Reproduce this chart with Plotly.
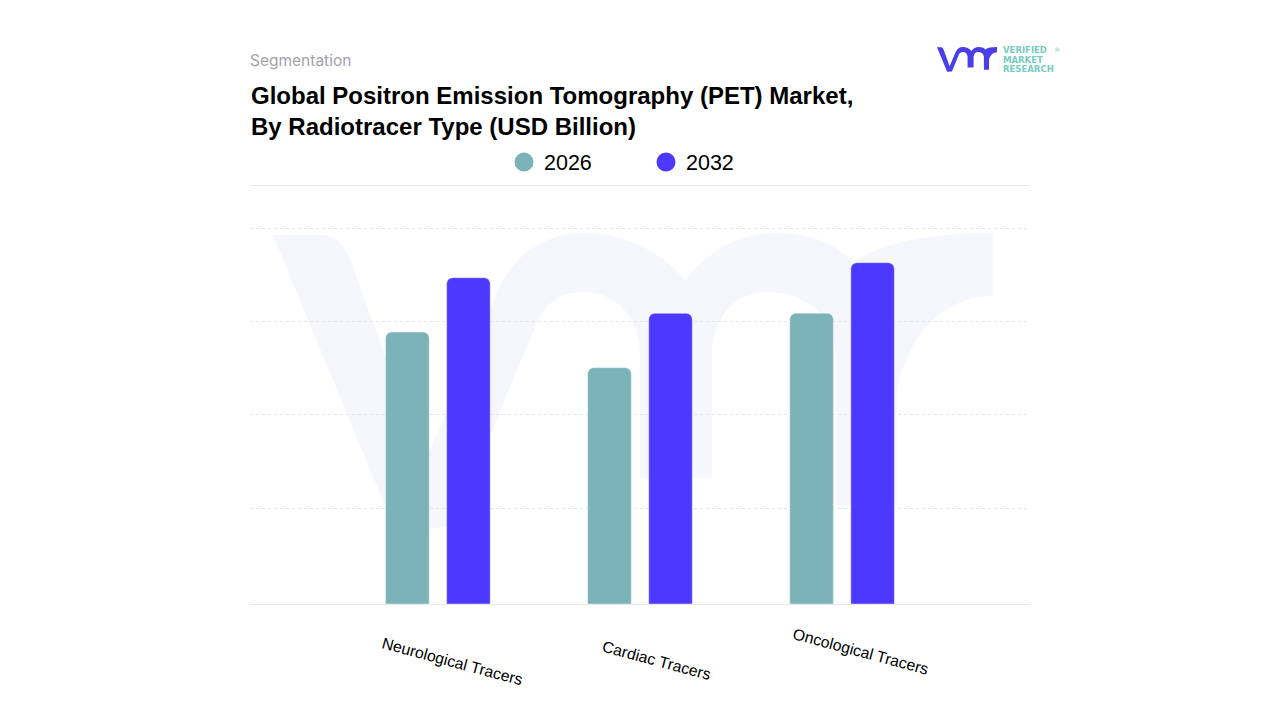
import plotly.graph_objects as go

# values (no axis labels in the original, scale is estimated)
categories = ['Neurological Tracers', 'Cardiac Tracers', 'Oncological Tracers']
values_2026 = [1.45, 1.26, 1.55]
values_2032 = [1.74, 1.55, 1.82]
grid_values = [0.51, 1.01, 1.505, 2.0]

TEAL = '#7bb3b8'
BLUE = '#4c38fe'
LOGO_TEXT = '#76cdbd'
FONT = 'Liberation Sans'

# plot box in page pixels
LEFT, RIGHT, TOP, BOTTOM = 250, 1030, 186, 604


def px(x):
    return (x - LEFT) / (RIGHT - LEFT)


def py(y):
    return (BOTTOM - y) / (BOTTOM - TOP)


# outline of the vmr mark, same shape for the watermark and the logo
mark = [
    ('M', [(273, 235)]),
    ('L', [(322, 235)]),
    ('C', [(338, 236), (346, 248), (352, 264)]),
    ('L', [(424, 465)]),
    ('L', [(497, 293)]),
    ('C', [(512, 255), (545, 233), (583, 233)]),
    ('C', [(625, 233), (662, 252), (685, 280)]),
    ('C', [(708, 252), (738, 233), (773, 233)]),
    ('C', [(808, 233), (835, 242), (853, 262)]),
    ('C', [(880, 243), (930, 233), (993, 233)]),
    ('L', [(993, 296)]),
    ('C', [(945, 296), (905, 335), (897, 395)]),
    ('L', [(897, 505)]),
    ('L', [(836, 505)]),
    ('L', [(836, 350)]),
    ('C', [(832, 315), (805, 292), (767, 292)]),
    ('C', [(735, 292), (712, 318), (712, 355)]),
    ('L', [(712, 478)]),
    ('L', [(640, 478)]),
    ('L', [(640, 355)]),
    ('C', [(640, 318), (617, 292), (583, 292)]),
    ('C', [(560, 292), (545, 303), (535, 327)]),
    ('L', [(452, 527)]),
    ('L', [(395, 530)]),
    ('Z', []),
]


def mark_path(scale, dx, dy):
    parts = []
    for cmd, pts in mark:
        coords = ' '.join(f'{px(p[0] * scale + dx):.5f},{py(p[1] * scale + dy):.5f}' for p in pts)
        parts.append(f'{cmd}{coords}')
    return ' '.join(parts)


logo_scale = 60 / 720
shapes = [
    dict(type='path', xref='paper', yref='paper', layer='below', line_width=0,
         fillcolor='#f6f7fd', path=mark_path(1, 0, 0)),
    dict(type='path', xref='paper', yref='paper', layer='below', line_width=0,
         fillcolor='#4a3ee6',
         path=mark_path(logo_scale, 937 - 273 * logo_scale, 47 - 233 * logo_scale)),
]

fig = go.Figure()
fig.add_trace(go.Bar(x=categories, y=values_2026, name='2026', marker_color=TEAL, showlegend=False))
fig.add_trace(go.Bar(x=categories, y=values_2032, name='2032', marker_color=BLUE, showlegend=False))

# round legend dots, the bars would only give squares
fig.add_trace(go.Scatter(x=[None], y=[None], mode='markers', name='2026',
                         marker=dict(color=TEAL, size=16, line=dict(color=TEAL, width=3))))
fig.add_trace(go.Scatter(x=[None], y=[None], mode='markers', name='2032',
                         marker=dict(color=BLUE, size=16, line=dict(color=BLUE, width=3))))

annotations = [
    dict(text='Segmentation', x=px(248), y=py(60), xanchor='left', yanchor='middle',
         font=dict(family='Inter', size=15.5, color='#a3a3a8')),
    dict(text='<b>VERIFIED</b>', x=px(1001), y=py(50), xanchor='left', yanchor='middle',
         font=dict(family='DejaVu Sans', size=8.5, color=LOGO_TEXT)),
    dict(text='<b>MARKET</b>', x=px(1001), y=py(59.5), xanchor='left', yanchor='middle',
         font=dict(family='DejaVu Sans', size=8.5, color=LOGO_TEXT)),
    dict(text='<b>RESEARCH</b>', x=px(1001), y=py(69), xanchor='left', yanchor='middle',
         font=dict(family='DejaVu Sans', size=8.5, color=LOGO_TEXT)),
    dict(text='®', x=px(1057), y=py(49), xanchor='center', yanchor='middle',
         font=dict(family='DejaVu Sans', size=6, color=LOGO_TEXT)),
]
for a in annotations:
    a.update(xref='paper', yref='paper', showarrow=False)

# slanted category labels, centred a bit right of each group like the original
label_xshift = [15, 17, 19]
label_center_y = [661, 660, 651]
for cat, xs, cy in zip(categories, label_xshift, label_center_y):
    annotations.append(dict(text=cat, x=cat, xref='x', y=py(cy), yref='paper', xshift=xs,
                            textangle=15, showarrow=False, xanchor='center', yanchor='middle',
                            font=dict(family=FONT, size=15.8, color='#000000')))

fig.update_layout(
    width=1280,
    height=720,
    margin=dict(l=LEFT, r=1280 - RIGHT, t=TOP, b=720 - BOTTOM, pad=0),
    paper_bgcolor='white',
    plot_bgcolor='rgba(0,0,0,0)',
    font=dict(family=FONT, color='#000000'),
    title=dict(text='<b>Global Positron Emission Tomography (PET) Market,<br>By Radiotracer Type (USD Billion)</b>',
               x=251 / 1280, xanchor='left', xref='container',
               y=1 - 104 / 720, yanchor='top', yref='container',
               font=dict(family=FONT, size=24, color='#000000')),
    barmode='group',
    bargap=0.396,
    bargroupgap=0.287,
    barcornerradius=6,
    legend=dict(orientation='h', x=px(504), xanchor='left', y=py(162), yanchor='middle',
                entrywidth=97, entrywidthmode='pixels', itemsizing='trace',
                itemclick=False, bgcolor='rgba(0,0,0,0)',
                font=dict(family=FONT, size=21.5, color='#000000')),
    xaxis=dict(type='category', categoryorder='array', categoryarray=categories,
               range=[-0.93, 2.93], showticklabels=False, ticks='', showgrid=False,
               zeroline=False, showline=True, mirror=True, linecolor='#e8e8e8', linewidth=1),
    yaxis=dict(range=[0, 2.229], tickvals=grid_values, showticklabels=False, ticks='',
               showgrid=True, gridcolor='#e4e4e4', griddash='dot', gridwidth=1,
               zeroline=False, showline=False),
    shapes=shapes,
    annotations=annotations,
)

fig.write_html('out.html', config={'displayModeBar': False},
               post_script="document.body.style.margin='0';")
